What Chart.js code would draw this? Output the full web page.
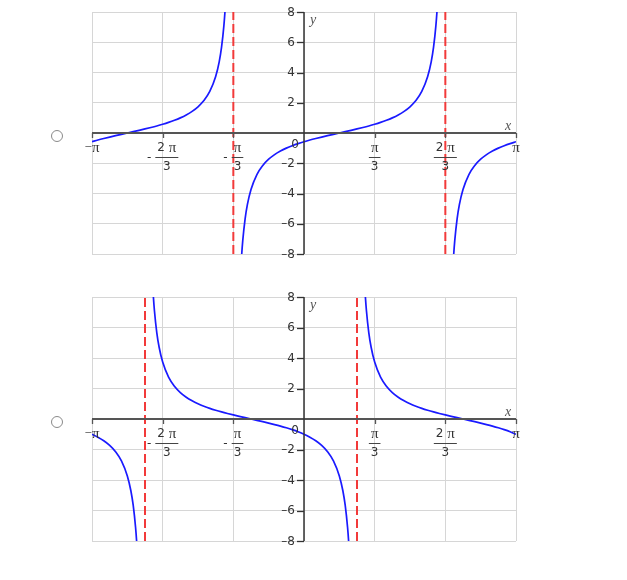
<!DOCTYPE html>
<html>
<head>
<meta charset="utf-8">
<script src="https://cdn.jsdelivr.net/npm/chart.js@4/dist/chart.umd.min.js"></script>
<style>
  html, body { margin: 0; padding: 0; background: #fff; }
  body { width: 627px; height: 580px; position: relative; overflow: hidden; }
  canvas { position: absolute; left: 0; }
  #c1 { top: 0; }
  #c2 { top: 280px; }
  .radio { position: absolute; margin: 0; width: 12px; height: 12px; left: 51px;
           -webkit-appearance: none; appearance: none; border: 1px solid #8a8a8a; border-radius: 50%; background: #fff; box-sizing: border-box; }
  #r1 { top: 130px; }
  #r2 { top: 416px; }
</style>
</head>
<body>
<input type="radio" class="radio" id="r1" name="choice">
<canvas id="c1" width="627" height="275"></canvas>
<input type="radio" class="radio" id="r2" name="choice">
<canvas id="c2" width="627" height="280"></canvas>
<script>
// ---- data (x in degrees, y) ----
const xMin = -180, xMax = 180, xStep = 60;
const yMin = -8, yMax = 8, yStep = 2;

const topX = [-180,-175,-170,-165,-160,-155,-150,-145,-140,-135,-130,-125,-120,-115,-110,-105,-100,-95,-90,-85,-80,-75,-72,-70,-68,-67,-66,
  -60,
  -54,-53,-52,-50,-48,-45,-40,-35,-30,-25,-20,-15,-10,-5,0,5,10,15,20,25,30,35,40,45,50,55,60,65,70,75,80,85,90,95,100,105,108,110,112,113,114,
  120,
  126,127,128,130,132,135,140,145,150,155,160,165,170,175,180];
const topY = [-0.577,-0.466,-0.364,-0.268,-0.176,-0.087,0,0.087,0.176,0.268,0.364,0.466,0.577,0.700,0.839,1.000,1.192,1.428,1.732,2.145,2.747,3.732,4.705,5.671,7.115,8.144,9.514,
  null,
  -9.514,-8.144,-7.115,-5.671,-4.705,-3.732,-2.747,-2.145,-1.732,-1.428,-1.192,-1.000,-0.839,-0.700,-0.577,-0.466,-0.364,-0.268,-0.176,-0.087,0,0.087,0.176,0.268,0.364,0.466,0.577,0.700,0.839,1.000,1.192,1.428,1.732,2.145,2.747,3.732,4.705,5.671,7.115,8.144,9.514,
  null,
  -9.514,-8.144,-7.115,-5.671,-4.705,-3.732,-2.747,-2.145,-1.732,-1.428,-1.192,-1.000,-0.839,-0.700,-0.577];
const topAsymptotes = [-60, 120];

const bottomX = [-180,-175,-170,-165,-160,-155,-150,-147,-145,-143,-142,-141,
  -135,
  -129,-128,-127,-125,-123,-120,-115,-110,-105,-100,-95,-90,-85,-80,-75,-70,-65,-60,-55,-50,-45,-40,-35,-30,-25,-20,-15,-10,-5,0,5,10,15,20,25,30,33,35,37,38,39,
  45,
  51,52,53,55,57,60,65,70,75,80,85,90,95,100,105,110,115,120,125,130,135,140,145,150,155,160,165,170,175,180];
const bottomY = [-1.000,-1.192,-1.428,-1.732,-2.145,-2.747,-3.732,-4.705,-5.671,-7.115,-8.144,-9.514,
  null,
  9.514,8.144,7.115,5.671,4.705,3.732,2.747,2.145,1.732,1.428,1.192,1.000,0.839,0.700,0.577,0.466,0.364,0.268,0.176,0.087,0,-0.087,-0.176,-0.268,-0.364,-0.466,-0.577,-0.700,-0.839,-1.000,-1.192,-1.428,-1.732,-2.145,-2.747,-3.732,-4.705,-5.671,-7.115,-8.144,-9.514,
  null,
  9.514,8.144,7.115,5.671,4.705,3.732,2.747,2.145,1.732,1.428,1.192,1.000,0.839,0.700,0.577,0.466,0.364,0.268,0.176,0.087,0,-0.087,-0.176,-0.268,-0.364,-0.466,-0.577,-0.700,-0.839,-1.000];
const bottomAsymptotes = [-135, 45];

// tick labels
const xTickValues = [-180, -120, -60, 60, 120, 180];
const xTickSigns = ['', '-', '-', '', '', ''];
const xTickNumerators = ['−π', '2 π', 'π', 'π', '2 π', 'π'];
const xTickDenominators = ['', '3', '3', '3', '3', ''];
const yTickValues = [-8, -6, -4, -2, 0, 2, 4, 6, 8];
const yTickLabels = ['–8', '–6', '–4', '–2', '0', '2', '4', '6', '8'];
const xAxisLabel = 'x';
const yAxisLabel = 'y';

// ---- styles ----
const NUM_FONT = "12px 'DejaVu Sans'";
const PI_FONT = "15px 'Liberation Serif'";
const MINUS_FONT = "13px 'Liberation Serif'";
const LABEL_COLOR = '#333';

function fontFor(ch) { return ch === 'π' ? PI_FONT : (ch === '−' ? MINUS_FONT : NUM_FONT); }
function mixedWidth(ctx, s) {
  let w = 0;
  for (const ch of s) { ctx.font = fontFor(ch); w += ctx.measureText(ch).width; }
  return w;
}
function drawMixed(ctx, s, xLeft, yMid) {
  let xx = xLeft;
  ctx.textAlign = 'left';
  ctx.textBaseline = 'middle';
  for (const ch of s) {
    ctx.font = fontFor(ch);
    ctx.fillText(ch, xx, yMid);
    xx += ctx.measureText(ch).width;
  }
}

const mathAxes = {
  id: 'mathAxes',
  afterDatasetsDraw(chart) {
    const { ctx, scales: { x, y } } = chart;
    const x0 = x.getPixelForValue(0), y0 = y.getPixelForValue(0);
    const left = x.getPixelForValue(xMin), right = x.getPixelForValue(xMax);
    const top = y.getPixelForValue(yMax), bottom = y.getPixelForValue(yMin);
    ctx.save();
    // x axis
    ctx.strokeStyle = '#555';
    ctx.lineWidth = 2;
    ctx.beginPath(); ctx.moveTo(left, y0); ctx.lineTo(right, y0); ctx.stroke();
    ctx.lineWidth = 1.3;
    x.ticks.forEach(t => {
      const px = Math.round(x.getPixelForValue(t.value)) + 0.5;
      if (t.value === 0) return;
      ctx.beginPath(); ctx.moveTo(px, y0); ctx.lineTo(px, y0 + 5); ctx.stroke();
    });
    // y axis
    ctx.strokeStyle = '#333';
    ctx.lineWidth = 1.5;
    ctx.beginPath(); ctx.moveTo(x0, top); ctx.lineTo(x0, bottom); ctx.stroke();
    ctx.lineWidth = 1.3;
    y.ticks.forEach(t => {
      if (t.value === 0) return;
      const py = Math.round(y.getPixelForValue(t.value)) + 0.5;
      ctx.beginPath(); ctx.moveTo(x0 - 7, py); ctx.lineTo(x0, py); ctx.stroke();
    });
    // y tick labels
    ctx.fillStyle = LABEL_COLOR;
    ctx.font = NUM_FONT;
    ctx.textBaseline = 'middle';
    ctx.textAlign = 'right';
    yTickValues.forEach((v, i) => {
      const py = y.getPixelForValue(v);
      if (v === 0) ctx.fillText(yTickLabels[i], x0 - 5, py + 12);
      else ctx.fillText(yTickLabels[i], x0 - 9, py + 0.5);
    });
    // x tick labels (fractions)
    xTickValues.forEach((v, i) => {
      const px = x.getPixelForValue(v);
      const num = xTickNumerators[i], den = xTickDenominators[i], sign = xTickSigns[i];
      if (!den) {
        const w = mixedWidth(ctx, num);
        drawMixed(ctx, num, px - w / 2, y0 + 15);
        return;
      }
      ctx.font = NUM_FONT;
      const signW = sign ? ctx.measureText(sign).width + 4 : 0;
      const numW = mixedWidth(ctx, num), denW = mixedWidth(ctx, den);
      const barW = Math.max(numW, denW) + 4;
      const start = px - (signW + barW) / 2;
      const barY = Math.round(y0 + 23.5) + 0.5;
      if (sign) { ctx.font = NUM_FONT; ctx.textAlign = 'left'; ctx.textBaseline = 'middle'; ctx.fillText(sign, start, barY); }
      ctx.strokeStyle = '#444';
      ctx.lineWidth = 1;
      ctx.beginPath(); ctx.moveTo(start + signW, barY); ctx.lineTo(start + signW + barW, barY); ctx.stroke();
      const cx = start + signW + barW / 2;
      drawMixed(ctx, num, cx - numW / 2, y0 + 15);
      drawMixed(ctx, den, cx - denW / 2, y0 + 34);
    });
    // axis names
    ctx.fillStyle = '#555';
    ctx.font = "italic 14px 'Liberation Serif'";
    ctx.textAlign = 'center';
    ctx.textBaseline = 'middle';
    ctx.fillText(yAxisLabel, x0 + 9, top + 8);
    ctx.fillText(xAxisLabel, right - 8, y0 - 7);
    ctx.restore();
  }
};

function makeChart(id, xs, ys, asymptotes, pad) {
  const curve = xs.map((xv, i) => ({ x: xv, y: ys[i] }));
  const datasets = [{
    data: curve,
    borderColor: '#1a1aff',
    borderWidth: 1.7,
    pointRadius: 0,
    cubicInterpolationMode: 'monotone',
    spanGaps: false,
    fill: false
  }];
  asymptotes.forEach(a => {
    datasets.push({
      data: [{ x: a, y: yMin }, { x: a, y: yMax }],
      borderColor: '#f23a3a',
      borderWidth: 2,
      borderDash: [9, 4],
      pointRadius: 0,
      fill: false
    });
  });
  return new Chart(document.getElementById(id), {
    type: 'line',
    data: { datasets },
    options: {
      responsive: false,
      animation: false,
      devicePixelRatio: 1,
      events: [],
      layout: { padding: pad },
      plugins: { legend: { display: false }, tooltip: { enabled: false } },
      scales: {
        x: {
          type: 'linear', min: xMin, max: xMax,
          ticks: { stepSize: xStep, display: false },
          grid: { color: '#d6d6d6', lineWidth: 1, drawTicks: false },
          border: { display: false }
        },
        y: {
          type: 'linear', min: yMin, max: yMax,
          ticks: { stepSize: yStep, display: false },
          grid: { color: '#d6d6d6', lineWidth: 1, drawTicks: false },
          border: { display: false }
        }
      }
    },
    plugins: [mathAxes]
  });
}

makeChart('c1', topX, topY, topAsymptotes, { left: 92, right: 111, top: 12, bottom: 21 });
makeChart('c2', bottomX, bottomY, bottomAsymptotes, { left: 92, right: 111, top: 17, bottom: 19 });
</script>
</body>
</html>
